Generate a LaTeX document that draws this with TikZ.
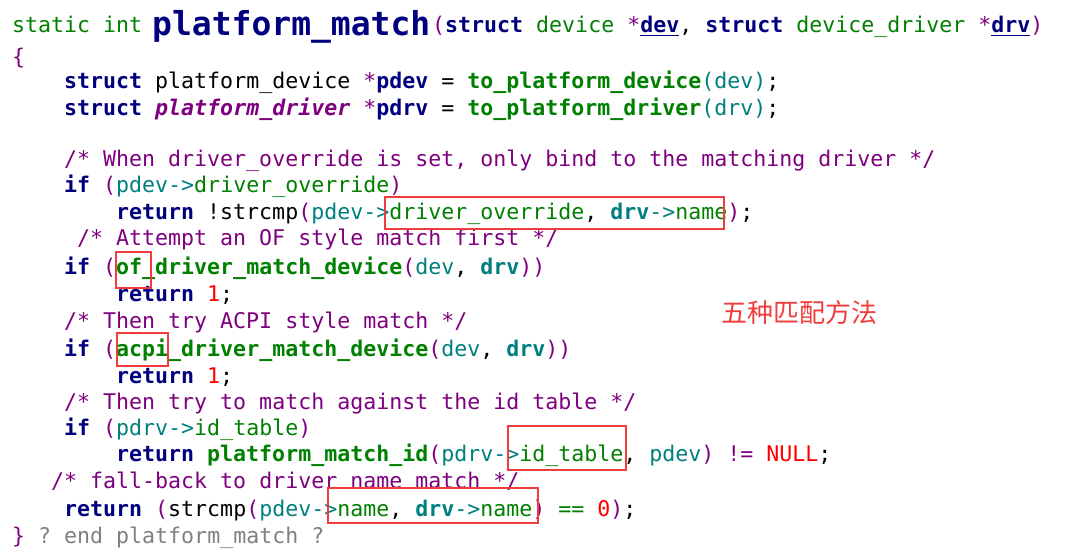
\documentclass[tikz,border=0pt]{standalone}
\usepackage{fontspec}
\setmonofont{DejaVu Sans Mono}
\newfontfamily\cjk{Noto Sans CJK SC}
\definecolor{kw}{HTML}{00007F}
\definecolor{gr}{HTML}{007F00}
\definecolor{fg}{HTML}{008000}
\definecolor{tl}{HTML}{007F7F}
\definecolor{pu}{HTML}{7F007F}
\definecolor{rd}{HTML}{FF0000}
\definecolor{gy}{HTML}{808080}
\definecolor{bx}{HTML}{F03C3C}
\newcommand\K[1]{\textcolor{kw}{\bfseries #1}}
\newcommand\G[1]{\textcolor{gr}{#1}}
\newcommand\F[1]{\textcolor{fg}{\bfseries #1}}
\newcommand\T[1]{\textcolor{tl}{#1}}
\newcommand\Pu[1]{\textcolor{pu}{#1}}
\newcommand\Rd[1]{\textcolor{rd}{#1}}
\tikzset{code/.style={anchor=base west,inner sep=0pt,font=\ttfamily\fontsize{21.6}{24}\selectfont},
 hl/.style={draw=bx,line width=2.2pt}}
\newcommand\cL[4]{\node[code] (#1) at ({12+#2*13},{-(#3+8)}) {#4};}
\begin{document}
\begin{tikzpicture}[x=1pt,y=1pt]
\useasboundingbox (0,0) rectangle (1068,-556);
\cL{l0}{0}{25}{\G{static int}}
\node[anchor=base west,inner sep=0pt,text=kw,font=\ttfamily\bfseries\fontsize{33}{36}\selectfont] (t) at (152,-36) {platform\_match};
\node[code] (l0b) at (432,-33) {\Pu{(}\K{struct} \G{device} \Pu{*}\K{\underline{dev}}, \K{struct} \G{device\_driver} \Pu{*}\K{\underline{drv}}\Pu{)}};
\cL{l1}{0}{57}{\Pu{\{}}
\cL{l2}{4}{81}{\K{struct} platform\_device \Pu{*}\K{pdev} = \F{to\_platform\_device}\T{(dev)};}
\cL{l3}{4}{108}{\K{struct} \Pu{\bfseries\itshape platform\_driver} \Pu{*}\K{pdrv} = \F{to\_platform\_driver}\T{(drv)};}
\cL{l4}{4}{159}{\Pu{/* When driver\_override is set, only bind to the matching driver */}}
\cL{l5}{4}{185}{\K{if} \Pu{(}\T{pdev->}\G{driver\_override}\Pu{)}}
\cL{l6}{8}{211}{\K{return} !strcmp\Pu{(}\T{pdev->}\G{driver\_override}, \T{\bfseries drv}\T{->}\G{name}\Pu{)};}
\cL{l7}{5}{237}{\Pu{/* Attempt an OF style match first */}}
\cL{l8}{4}{266}{\K{if} \Pu{(}\F{of\_driver\_match\_device}\Pu{(}\T{dev}, \T{\bfseries drv}\Pu{))}}
\cL{l9}{8}{293}{\K{return} \Rd{1};}
\cL{l10}{4}{320}{\Pu{/* Then try ACPI style match */}}
\cL{l11}{4}{348}{\K{if} \Pu{(}\F{acpi\_driver\_match\_device}\Pu{(}\T{dev}, \T{\bfseries drv}\Pu{))}}
\cL{l12}{8}{375}{\K{return} \Rd{1};}
\cL{l13}{4}{401}{\Pu{/* Then try to match against the id table */}}
\cL{l14}{4}{427}{\K{if} \Pu{(}\T{pdrv->}\G{id\_table}\Pu{)}}
\cL{l15}{8}{453}{\K{return} \F{platform\_match\_id}\Pu{(}\T{pdrv->}\G{id\_table}, \T{pdev}\Pu{)} \Pu{!=} \Rd{NULL};}
\cL{l16}{3}{480}{\Pu{/* fall-back to driver name match */}}
\cL{l17}{4}{508}{\K{return} \Pu{(}strcmp\Pu{(}\T{pdev->}\G{name}, \T{\bfseries drv}\T{->}\G{name}\Pu{)} \G{==} \Rd{0}\Pu{)};}
\cL{l18}{0}{535}{\Pu{\}} \textcolor{gy}{? end platform\_match ?}}
\node[anchor=west,inner sep=0pt,text=bx,font=\cjk\fontsize{26}{28}\selectfont] (cn) at (721,-313) {五种匹配方法};
\draw[hl] (385,-197) rectangle (724,-229);
\draw[hl] (116,-252) rectangle (151,-288);
\draw[hl] (117,-333) rectangle (168,-366);
\draw[hl] (508,-426) rectangle (626,-470);
\draw[hl] (328,-488) rectangle (538,-523);
\end{tikzpicture}
\end{document}
